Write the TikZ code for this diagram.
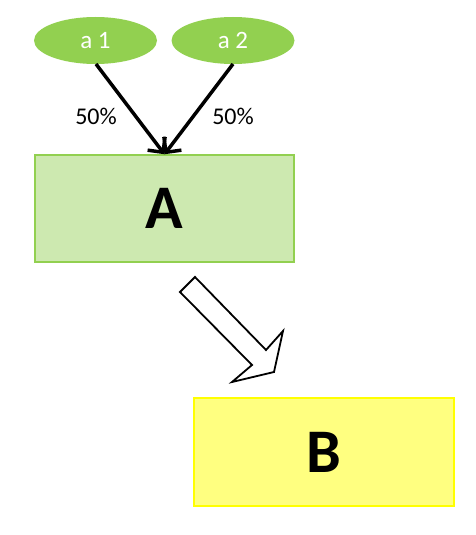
\documentclass[tikz,border=0pt]{standalone}
\usepackage{fontspec}
\setmainfont{Carlito}
\usetikzlibrary{shapes.geometric,arrows.meta}
\definecolor{leaf}{HTML}{92D050}
\definecolor{paleleaf}{HTML}{CDE9B0}
\definecolor{paleyel}{HTML}{FFFF80}
\definecolor{yelline}{HTML}{FFFF00}
\tikzset{
  src/.style={ellipse, fill=leaf, minimum width=123pt, minimum height=47pt, inner sep=0pt, text=white, font=\fontsize{25}{25}\selectfont},
  boxa/.style={rectangle, draw=leaf, line width=1.5pt, fill=paleleaf, minimum width=259pt, minimum height=107pt, font=\fontsize{62}{62}\selectfont\bfseries},
  boxb/.style={rectangle, draw=yelline, line width=1.5pt, fill=paleyel, minimum width=260pt, minimum height=108pt, font=\fontsize{62}{62}\selectfont\bfseries},
  feed/.style={line width=3.5pt, -{Straight Barb[length=11pt,width=22pt,line width=3.5pt]}},
  pct/.style={font=\fontsize{24}{24}\selectfont},
}
\begin{document}
\begin{tikzpicture}[x=1pt,y=-1pt]
\useasboundingbox (0,0) rectangle (475,535);
\node[src] (a1) at (95.5,40.5) {a 1};
\node[src] (a2) at (233,40.5) {a 2};
\node[boxa] (A) at (164.5,208.5) {A};
\node[boxb] (B) at (324,452) {B};
\coordinate (m1) at (96,64);
\coordinate (m2) at (233,64);
\draw[feed] (m1) -- (A.north);
\draw[feed] (m2) -- (A.north);
\node[pct] (p1) at (96,116) {50\%};
\node[pct] (p2) at (233,116) {50\%};
\draw[line width=1.8pt, line join=miter, fill=white]
  (180,292) -- (195,277) -- (266,350) -- (283,331) -- (274,372) -- (232,382) -- (252,365) -- cycle;
\end{tikzpicture}
\end{document}
